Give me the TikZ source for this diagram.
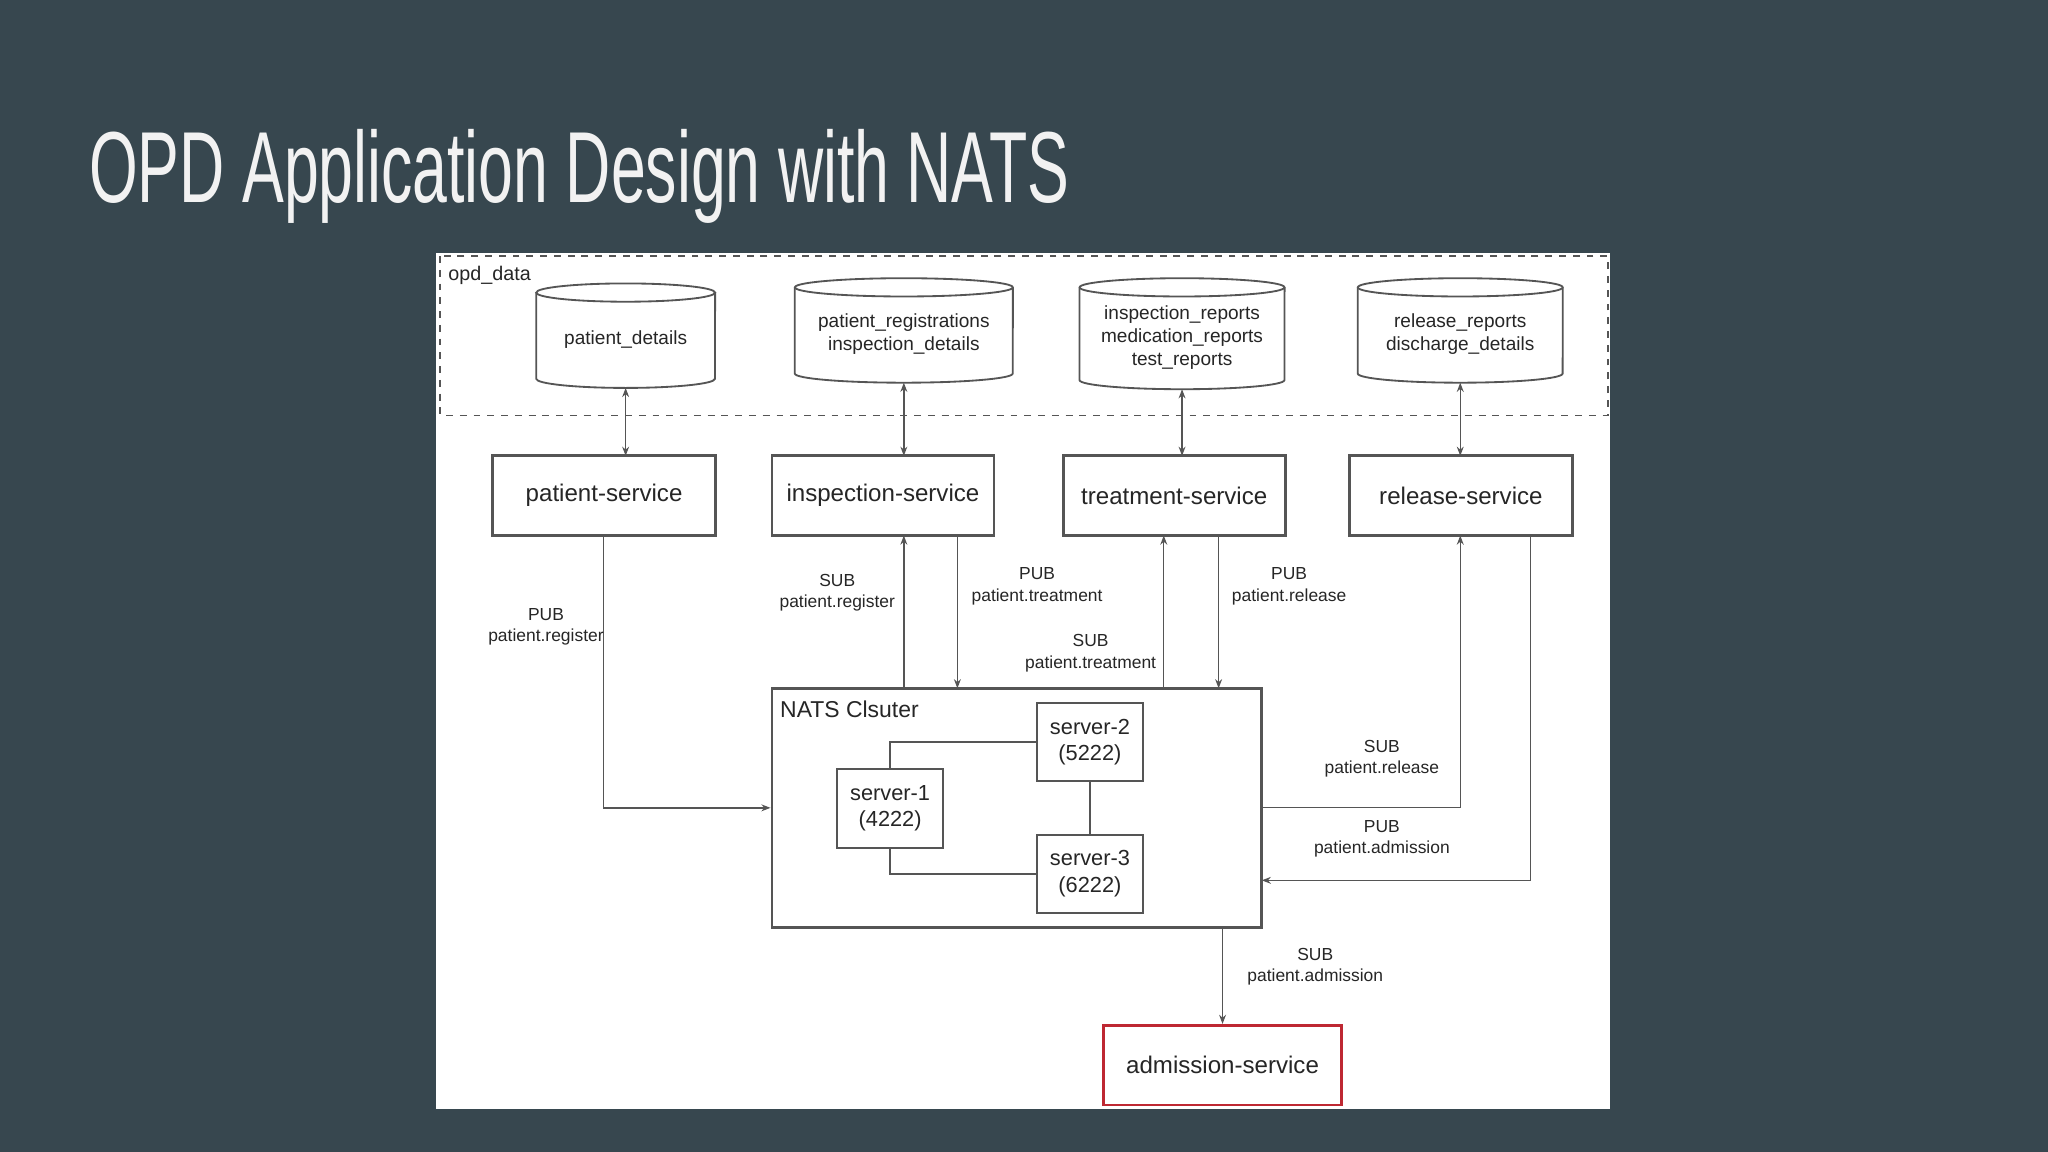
\documentclass[tikz,border=0pt]{standalone}
\usepackage{fontspec}
\setmainfont{Liberation Sans}
\newfontfamily\titlefont[FakeStretch=0.62]{Liberation Sans}
\usetikzlibrary{arrows.meta}
\definecolor{bgc}{RGB}{55,71,79}
\definecolor{ln}{RGB}{85,85,85}
\definecolor{redb}{RGB}{190,40,50}
\tikzset{x=0.02cm,y=-0.02cm,
 svc/.style={draw=ln,line width=1.2pt,fill=white,font=\fontsize{10.5}{12}\selectfont,text=black!85},
 srv/.style={draw=ln,line width=0.8pt,fill=white,font=\fontsize{9.5}{11.5}\selectfont,align=center,text=black!85},
 lbl/.style={font=\fontsize{7.6}{9.3}\selectfont,align=center,text=black!85,inner sep=1pt},
 ar/.style={draw=ln,line width=0.6pt,-{Stealth[length=4pt,width=3pt]}},
 dar/.style={draw=ln,line width=0.6pt,{Stealth[length=4pt,width=3pt]}-{Stealth[length=4pt,width=3pt]}},
 cl/.style={draw=ln,line width=0.7pt}}
\newcommand\mycyl[6]{% name cx top bottom width text
 \node[font=\fontsize{8.3}{10.2}\selectfont,align=center,text=black!85,minimum width=#5*0.02cm,minimum height=(#4-#3)*0.02cm,inner sep=0pt] (#1) at (#2,{(#3+#4)/2+3}) {#6};
 \draw[ln,line width=0.8pt,fill=white,fill opacity=0] (#2-#5/2,#3+7) -- (#2-#5/2,#4-7) arc[start angle=180,end angle=360,x radius=#5*0.01cm,y radius=0.14cm] -- (#2+#5/2,#3+7);
 \draw[ln,line width=0.8pt] (#2,#3+7) ellipse[x radius=#5*0.01cm,y radius=0.14cm];}
\begin{document}
\begin{tikzpicture}
\fill[bgc] (0,0) rectangle (1568,882);
\useasboundingbox (0,0) rectangle (1568,882);
\node[anchor=base west,inner sep=0pt,text=white!95!black,font=\titlefont\fontsize{44}{50}\selectfont] (title) at (68,155) {OPD Application Design with NATS};
\fill[white] (334,194) rectangle (1233,849);
\draw[ln,line width=0.6pt,dashed] (337,196) rectangle (1231,318);
\node[anchor=west,font=\fontsize{8.6}{10}\selectfont,text=black!85,inner sep=0pt] (opd) at (343,211) {opd\_data};
\mycyl{c1}{479}{217}{297}{137}{patient\_details}
\mycyl{c2}{692}{213}{293}{167}{patient\_registrations\\inspection\_details}
\mycyl{c3}{905}{213}{298}{157}{inspection\_reports\\medication\_reports\\test\_reports}
\mycyl{c4}{1118}{213}{293}{157}{release\_reports\\discharge\_details}
\node[svc,minimum width=171*0.02cm,minimum height=61*0.02cm] (ps) at (462.5,379.5) {patient-service};
\node[svc,minimum width=170*0.02cm,minimum height=61*0.02cm] (is) at (676,379.5) {inspection-service};
\node[svc,minimum width=170*0.02cm,minimum height=61*0.02cm] (ts) at (899,379.5) {treatment-service};
\node[svc,minimum width=171*0.02cm,minimum height=61*0.02cm] (rs) at (1118.5,379.5) {release-service};
\node[svc,draw=redb,minimum width=182*0.02cm,minimum height=61*0.02cm] (as) at (936,815.5) {admission-service};
\node[svc,minimum width=375*0.02cm,minimum height=183*0.02cm] (nats) at (778.5,618.5) {};
\node[anchor=west,inner sep=0pt,font=\fontsize{10}{12}\selectfont,text=black!85] (nl) at (597,543) {NATS Clsuter};
\node[srv,minimum width=81*0.02cm,minimum height=60*0.02cm] (s2) at (834.5,568) {server-2\\(5222)};
\node[srv,minimum width=81*0.02cm,minimum height=60*0.02cm] (s1) at (681.5,619) {server-1\\(4222)};
\node[srv,minimum width=81*0.02cm,minimum height=60*0.02cm] (s3) at (834.5,669) {server-3\\(6222)};
\draw[cl] (s1.north) |- (s2.west);
\draw[cl] (s1.south) |- (s3.west);
\draw[cl] (s2.south) -- (s3.north);
% db links
\draw[dar] (479,297) -- (479,349);
\draw[dar] (692,293) -- (692,349);
\draw[dar] (905,298) -- (905,349);
\draw[dar] (1118,293) -- (1118,349);
% pub/sub
\draw[ar] (462,410) |- (nats.west);
\node[lbl] (l1) at (418,480) {PUB\\patient.register};
\draw[ar] (692,527) -- (692,410);
\node[lbl] (l2) at (641,454) {SUB\\patient.register};
\draw[ar] (733,410) -- (733,527);
\node[lbl] (l3) at (794,449) {PUB\\patient.treatment};
\draw[ar] (891,527) -- (891,410);
\node[lbl] (l4) at (835,500) {SUB\\patient.treatment};
\draw[ar] (933,410) -- (933,527);
\node[lbl] (l5) at (987,449) {PUB\\patient.release};
\draw[ar] (966,618) -| (1118,410);
\node[lbl] (l6) at (1058,581) {SUB\\patient.release};
\draw[ar] (1172,410) |- (966,674);
\node[lbl] (l7) at (1058,642) {PUB\\patient.admission};
\draw[ar] (936,710) -- (as.north);
\node[lbl] (l8) at (1007,740) {SUB\\patient.admission};
\end{tikzpicture}
\end{document}
